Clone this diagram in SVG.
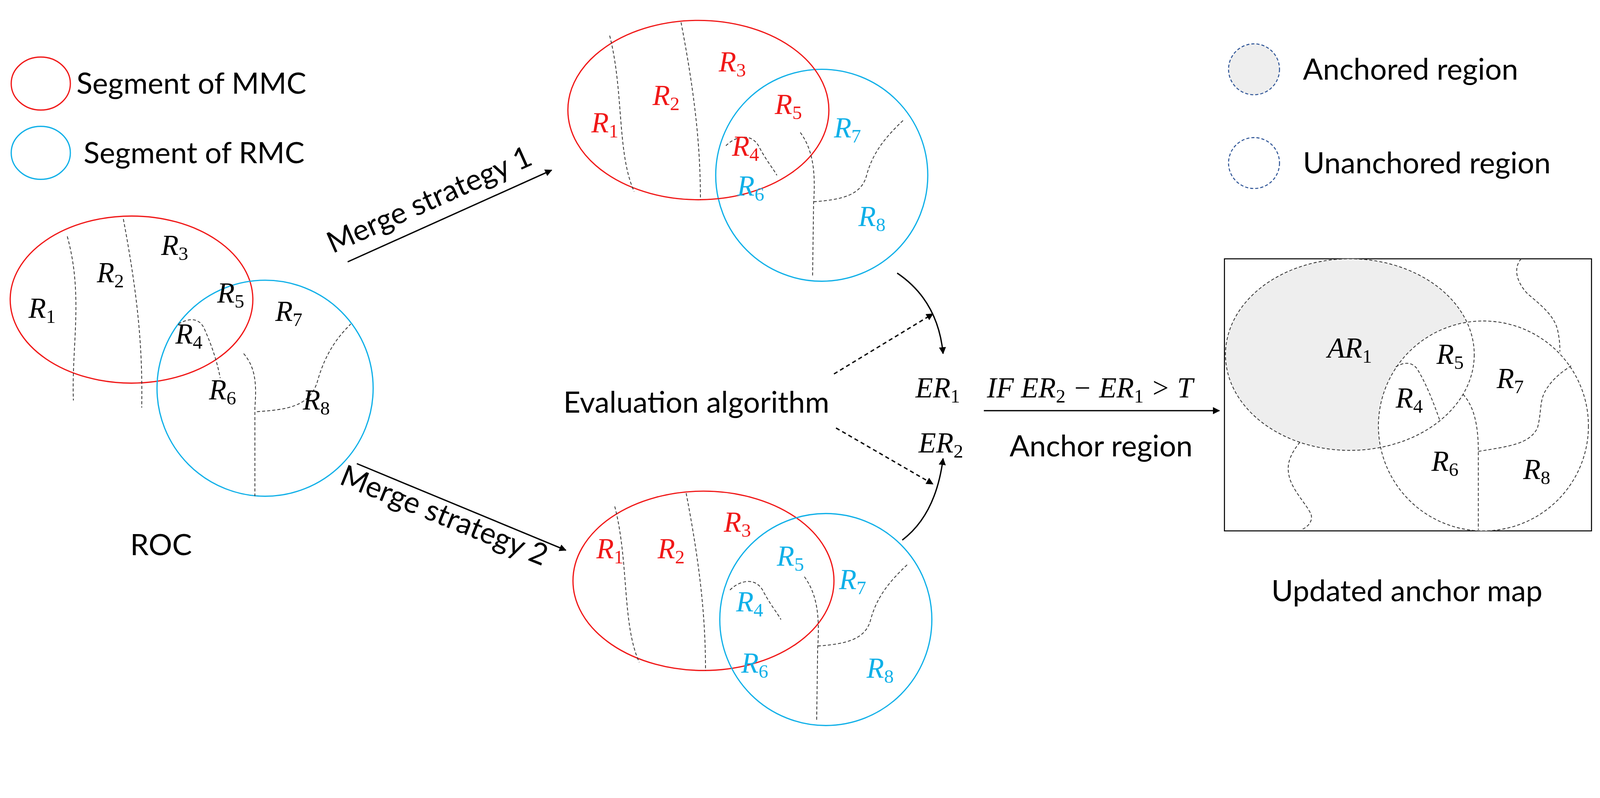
<svg xmlns="http://www.w3.org/2000/svg" width="4371" height="2044" viewBox="0 0 4371 2044">
<style>
.t{font-family:Lato,"Liberation Sans",sans-serif;font-size:29px;fill:#000}
.m{font-family:"Liberation Serif",serif;font-style:italic;font-size:28px}
.s{font-size:19px;font-style:normal}
.red{stroke:#f01818;fill:none;stroke-width:1.2}
.blue{stroke:#10b0e8;fill:none;stroke-width:1.2}
.d{stroke:#333;fill:none;stroke-width:0.8;stroke-dasharray:3 2}
.rt{fill:#f01818}.bt{fill:#10b0e8}.kt{fill:#000}
.ar{stroke:#000;stroke-width:1.3;fill:none}
</style>
<defs>
<marker id="ah" viewBox="0 0 10 10" refX="9" refY="5" markerWidth="7" markerHeight="7" markerUnits="userSpaceOnUse" orient="auto"><path d="M0,0L10,5L0,10z" fill="#000"/></marker>
</defs>
<rect width="4371" height="2044" fill="#fff"/>
<g transform="scale(2.61)">
<g id="legend-left">
<ellipse cx="40" cy="82" rx="29" ry="26" class="red"/>
<text x="75" y="92" class="t">Segment of MMC</text>
<ellipse cx="40" cy="150" rx="29" ry="26" class="blue"/>
<text x="82" y="160" class="t">Segment of RMC</text>
</g>
<g id="legend-right">
<circle cx="1230" cy="68" r="25" fill="#eee" stroke="#2f5597" stroke-width="1" stroke-dasharray="3 2"/>
<text x="1278" y="78" class="t">Anchored region</text>
<circle cx="1230" cy="160" r="25" fill="none" stroke="#2f5597" stroke-width="1" stroke-dasharray="3 2"/>
<text x="1278" y="170" class="t">Unanchored region</text>
</g>
<g id="roc">
<ellipse cx="129" cy="294" rx="119" ry="82" class="red"/>
<circle cx="260" cy="381" r="106" class="blue"/>
<path class="d" d="M66,232 C82,290 70,340 72,393"/>
<path class="d" d="M121,215 C135,290 140,340 139,400"/>
<path class="d" d="M175,318 C185,312 196,311 201,324 C208,340 213,355 216,371"/>
<path class="d" d="M239,347 C250,360 252,375 250,400 L250,487"/>
<path class="d" d="M252,404 C280,402 305,400 312,372 C320,345 332,330 344,318"/>
<g class="m kt">
<text x="28" y="312">R<tspan class="s" dy="5">1</tspan></text>
<text x="95" y="277">R<tspan class="s" dy="5">2</tspan></text>
<text x="158" y="250">R<tspan class="s" dy="5">3</tspan></text>
<text x="213" y="297">R<tspan class="s" dy="5">5</tspan></text>
<text x="172" y="337">R<tspan class="s" dy="5">4</tspan></text>
<text x="270" y="315">R<tspan class="s" dy="5">7</tspan></text>
<text x="205" y="392">R<tspan class="s" dy="5">6</tspan></text>
<text x="297" y="402">R<tspan class="s" dy="5">8</tspan></text>
</g>
<text x="158" y="545" class="t" text-anchor="middle">ROC</text>
</g>
<g id="merge1">
<circle cx="806" cy="172" r="104" class="blue"/>
<ellipse cx="685" cy="108" rx="128" ry="88" class="red"/>
<path class="d" d="M598,35 C612,90 605,150 622,188"/>
<path class="d" d="M668,22 C683,100 687,150 687,196"/>
<path class="d" d="M712,143 C722,133 738,130 745,145 C752,158 758,165 762,172"/>
<path class="d" d="M785,130 C798,148 800,170 798,200 L797,272"/>
<path class="d" d="M798,198 C825,196 845,192 850,172 C856,150 868,135 886,118"/>
<g class="m">
<text x="580" y="130" class="rt">R<tspan class="s" dy="5">1</tspan></text>
<text x="640" y="103" class="rt">R<tspan class="s" dy="5">2</tspan></text>
<text x="705" y="70" class="rt">R<tspan class="s" dy="5">3</tspan></text>
<text x="760" y="112" class="rt">R<tspan class="s" dy="5">5</tspan></text>
<text x="718" y="153" class="rt">R<tspan class="s" dy="5">4</tspan></text>
<text x="818" y="135" class="bt">R<tspan class="s" dy="5">7</tspan></text>
<text x="723" y="192" class="bt">R<tspan class="s" dy="5">6</tspan></text>
<text x="842" y="222" class="bt">R<tspan class="s" dy="5">8</tspan></text>
</g>
</g>
<g id="merge2">
<ellipse cx="690" cy="570" rx="128" ry="88" class="red"/>
<circle cx="810" cy="608" r="104" class="blue"/>
<g transform="translate(5,462)">
<path class="d" d="M598,35 C612,90 605,150 622,188"/>
<path class="d" d="M668,22 C683,100 687,150 687,196"/>
</g>
<g transform="translate(4,436)">
<path class="d" d="M712,143 C722,133 738,130 745,145 C752,158 758,165 762,172"/>
<path class="d" d="M785,130 C798,148 800,170 798,200 L797,272"/>
<path class="d" d="M798,198 C825,196 845,192 850,172 C856,150 868,135 886,118"/>
</g>
<g class="m">
<text x="585" y="548" class="rt">R<tspan class="s" dy="5">1</tspan></text>
<text x="645" y="548" class="rt">R<tspan class="s" dy="5">2</tspan></text>
<text x="710" y="522" class="rt">R<tspan class="s" dy="5">3</tspan></text>
<text x="762" y="555" class="bt">R<tspan class="s" dy="5">5</tspan></text>
<text x="823" y="578" class="bt">R<tspan class="s" dy="5">7</tspan></text>
<text x="722" y="600" class="bt">R<tspan class="s" dy="5">4</tspan></text>
<text x="727" y="660" class="bt">R<tspan class="s" dy="5">6</tspan></text>
<text x="850" y="665" class="bt">R<tspan class="s" dy="5">8</tspan></text>
</g>
</g>
<g id="evaluation">
<text x="683" y="405" class="t" text-anchor="middle">Evaluation algorithm</text>
<text x="898" y="390" class="m">ER<tspan class="s" dy="5">1</tspan></text>
<text x="901" y="444" class="m">ER<tspan class="s" dy="5">2</tspan></text>
</g>
<g id="anchor-map">
<rect x="1201" y="254" width="360" height="267" fill="none" stroke="#000" stroke-width="1"/>
<ellipse cx="1324" cy="348" rx="122" ry="94" fill="#eee"/>
<circle cx="1455" cy="418" r="103" fill="#fff"/>
<ellipse cx="1324" cy="348" rx="122" ry="94" class="d"/>
<circle cx="1455" cy="418" r="103" class="d"/>
<path class="d" d="M1369,360 C1376,356 1384,354 1390,362 C1398,375 1405,392 1412,412"/>
<path class="d" d="M1435,387 C1445,398 1450,415 1450,443 L1450,520"/>
<path class="d" d="M1450,443 C1480,438 1500,436 1508,420 C1512,405 1510,395 1515,385 C1522,372 1532,365 1541,359"/>
<path class="d" d="M1492,254 C1485,262 1486,275 1498,288 C1512,300 1525,310 1528,325 C1530,335 1530,340 1530,345"/>
<path class="d" d="M1275,434 C1266,445 1262,455 1264,465 C1266,480 1282,495 1286,505 C1288,512 1282,518 1276,520"/>
<g class="m kt">
<text x="1302" y="351">AR<tspan class="s" dy="5">1</tspan></text>
<text x="1409" y="357">R<tspan class="s" dy="5">5</tspan></text>
<text x="1468" y="381">R<tspan class="s" dy="5">7</tspan></text>
<text x="1369" y="400">R<tspan class="s" dy="5">4</tspan></text>
<text x="1404" y="462">R<tspan class="s" dy="5">6</tspan></text>
<text x="1494" y="470">R<tspan class="s" dy="5">8</tspan></text>
</g>
<text x="1380" y="590" class="t" text-anchor="middle">Updated anchor map</text>
</g>
<g id="connectors">
<line x1="341" y1="257" x2="541" y2="167" class="ar" marker-end="url(#ah)"/>
<text class="t" transform="translate(425,205) rotate(-24)" text-anchor="middle">Merge strategy 1</text>
<line x1="350" y1="455" x2="555" y2="540" class="ar" marker-end="url(#ah)"/>
<text class="t" transform="translate(432,515) rotate(22)" text-anchor="middle">Merge strategy 2</text>
<line x1="818" y1="367" x2="915" y2="308" class="ar" stroke-dasharray="4 3" marker-end="url(#ah)"/>
<line x1="820" y1="420" x2="915" y2="475" class="ar" stroke-dasharray="4 3" marker-end="url(#ah)"/>
<path d="M880,268 Q920,295 925,347" class="ar" marker-end="url(#ah)"/>
<path d="M885,530 Q918,505 925,450" class="ar" marker-end="url(#ah)"/>
<text x="968" y="390" class="m">IF ER<tspan class="s" dy="5">2</tspan><tspan dy="-5"> − ER</tspan><tspan class="s" dy="5">1</tspan><tspan dy="-5"> &gt; T</tspan></text>
<line x1="965" y1="403" x2="1196" y2="403" class="ar" marker-end="url(#ah)"/>
<text x="1080" y="448" class="t" text-anchor="middle">Anchor region</text>
</g>
</g>
</svg>
